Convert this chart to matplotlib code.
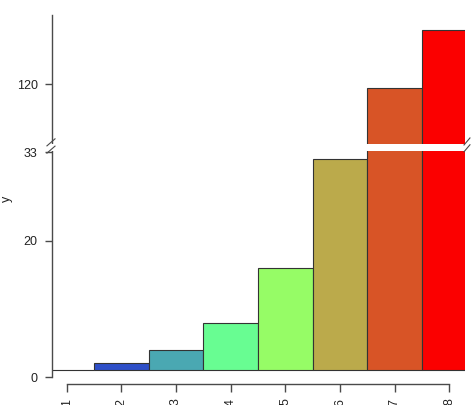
import numpy as np
import matplotlib
matplotlib.use("Agg")
import matplotlib.pyplot as plt
from matplotlib.transforms import blended_transform_factory

plt.rcParams['font.family'] = ['Liberation Sans', 'DejaVu Sans']

# data
categories = ['1', '2', '3', '4', '5', '6', '7', '8']
values = [1, 2, 4, 8, 16, 32, 119.5, 128]
bar_colors = ['#3a4fc0', '#2e4fc8', '#4aa8b2', '#68fd92', '#96fc66',
              '#bbaa4b', '#d85426', '#fb0000']
gap = (33, 110)
y_ticks = [0, 20, 33, 120]

gapsize = gap[1] - gap[0]


def squash(v):
    # values above the gap are pulled down by the gap size
    return v - gapsize if v >= gap[1] else v


shown = np.array([squash(v) for v in values])
base = min(values)
x = np.arange(1, len(values) + 1)

fig = plt.figure(figsize=(4.74, 4.05), dpi=100)
ax = fig.add_axes([51.5 / 474, 28 / 405, 413.5 / 474, 362 / 405])

ax.bar(x, shown - base, bottom=base, width=1.0, color=bar_colors,
       edgecolor='#333333', linewidth=0.8, zorder=2)

ax.set_xlim(0.72, 8.29)
ax.set_ylim(0, 53.2)

axcol = '#4a4a4a'
for s in ('top', 'right'):
    ax.spines[s].set_visible(False)
ax.spines['left'].set_color(axcol)
ax.spines['bottom'].set_color(axcol)
ax.spines['left'].set_linewidth(1.0)
ax.spines['bottom'].set_linewidth(1.0)
ax.spines['bottom'].set_position(('outward', 5))
ax.spines['bottom'].set_bounds(1, 8)

ax.set_xticks(x)
ax.set_xticklabels(categories, rotation=90)
ax.set_yticks([squash(t) for t in y_ticks])
ax.set_yticklabels([str(t) for t in y_ticks])
ax.tick_params(axis='y', length=5, width=1.0, color=axcol, pad=5,
               labelsize=9, labelcolor='#222222')
ax.tick_params(axis='x', length=5.5, width=1.0, color=axcol, pad=5,
               labelsize=9, labelcolor='#222222')

# the break: white band over the bars and slashes on both edges
tr = blended_transform_factory(ax.transAxes, ax.transData)
ax.fill_between([-0.012, 1.02], gap[0] + 0.28, gap[0] + 1.26, color='white',
                transform=tr, zorder=4, clip_on=False, linewidth=0)
for y0 in (gap[0] - 0.1, gap[0] + 0.97):
    ax.plot([-0.011, 0.0085], [y0, y0 + 1.03], color=axcol, lw=0.8,
            transform=tr, zorder=5, clip_on=False)
for y0 in (gap[0] + 0.1, gap[0] + 1.1):
    ax.plot([0.9976, 1.012], [y0, y0 + 1.03], color=axcol, lw=0.8,
            transform=tr, zorder=5, clip_on=False)

fig.text(6.5 / 474, 1 - 199 / 405, 'y', rotation=90, ha='center', va='center',
         fontsize=9, color='#222222')

fig.savefig('out.png', dpi=100)
